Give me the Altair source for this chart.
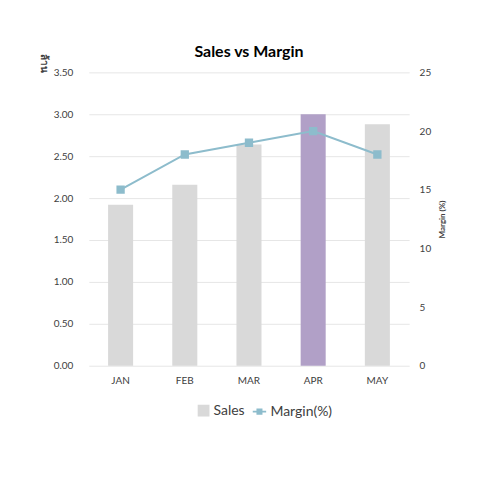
import altair as alt
import pandas as pd

months = ["JAN", "FEB", "MAR", "APR", "MAY"]
sales = [1.92, 2.16, 2.64, 3.00, 2.88]
margin = [15, 18, 19, 20, 18]
left_ticks = [0, 0.5, 1.0, 1.5, 2.0, 2.5, 3.0, 3.5]
right_ticks = [0, 5, 10, 15, 20, 25]

df = pd.DataFrame({"month": months, "sales": sales, "margin": margin,
                   "s1": ["Sales"] * 5, "s2": ["Margin(%)"] * 5})

FONT = "Lato"
GRAY = "#D9D9D9"
PURPLE = "#B1A0C7"
BLUE = "#8DBCCC"
TXT = "#404040"

x = alt.X("month:N", sort=months, title=None,
          scale=alt.Scale(paddingInner=0.61, paddingOuter=0.3),
          axis=alt.Axis(labelAngle=0, ticks=False, domain=False, labelFontSize=10,
                        labelColor=TXT, labelPadding=10, labelFont=FONT))

bars = alt.Chart(df).mark_bar().encode(
    x=x,
    y=alt.Y("sales:Q", title="ล้าน",
            scale=alt.Scale(domain=[0, 3.5], nice=False),
            axis=alt.Axis(values=left_ticks, format=".2f", ticks=False, domain=False,
                          labelFontSize=10, labelColor=TXT, labelPadding=16, labelFont=FONT,
                          gridColor="#E6E6E6", titleAngle=90, titleFontSize=10,
                          titleFontWeight="bold", titleColor=TXT, titleAnchor="end",
                          titleBaseline="top", titlePadding=5)),
    color=alt.condition(alt.datum.month == "APR", alt.value(PURPLE),
                        alt.Color("s1:N", scale=alt.Scale(domain=["Sales"], range=[GRAY]),
                                  legend=alt.Legend(title=None, orient="none", legendX=108,
                                                    legendY=332, symbolType="square",
                                                    symbolSize=140, labelFontSize=14,
                                                    labelFont=FONT, labelColor=TXT,
                                                    labelOffset=3)))
)

line = alt.Chart(df).mark_line(
    strokeWidth=2,
    point=alt.OverlayMarkDef(shape="square", filled=True, size=40, color=BLUE)
).encode(
    x=x,
    y=alt.Y("margin:Q", title="Margin (%)",
            scale=alt.Scale(domain=[0, 25], nice=False),
            axis=alt.Axis(orient="right", values=right_ticks, ticks=False, domain=False,
                          grid=False, labelFontSize=10, labelColor=TXT, labelPadding=10,
                          labelFont=FONT, titleFontSize=8, titleFontWeight="bold",
                          titleAngle=270, titleBaseline="bottom",
                          titleColor=TXT, titlePadding=16, titleFont=FONT)),
    stroke=alt.Stroke("s2:N", scale=alt.Scale(domain=["Margin(%)"], range=[BLUE]),
                      legend=alt.Legend(title=None, orient="none", legendX=163, legendY=332,
                                        symbolType="M-1,0H-0.3M0.3,0H1M-0.3,-0.3H0.3V0.3H-0.3Z",
                                        symbolFillColor=BLUE, symbolStrokeColor=BLUE,
                                        symbolStrokeWidth=2, symbolSize=180,
                                        labelFontSize=14, labelFont=FONT, labelColor=TXT,
                                        labelOffset=3))
)

chart = alt.layer(bars, line).resolve_scale(
    y="independent", color="independent", stroke="independent"
).properties(
    width=321, height=294,
    title=alt.TitleParams("Sales vs Margin", fontSize=16, fontWeight="bold", font=FONT,
                          color="#000000", anchor="middle", offset=14, dy=21),
    autosize=alt.AutoSizeParams(type="none"),
    padding={"left": 81, "top": 64, "right": 63, "bottom": 100}
).configure_view(stroke=None)

chart.save("out.html", embed_options={"renderer": "svg", "actions": False})
